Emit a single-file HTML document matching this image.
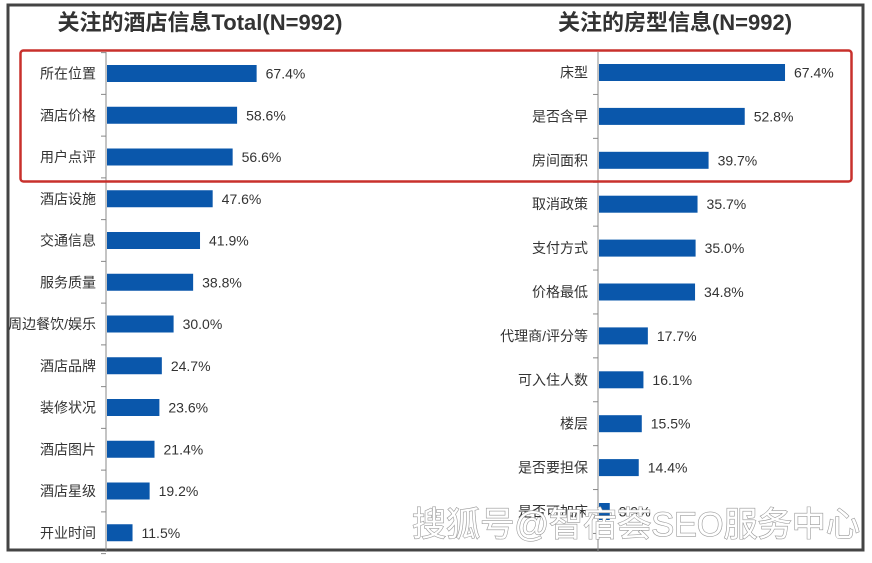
<!DOCTYPE html>
<html><head><meta charset="utf-8"><style>
body{margin:0;background:#fff;}
svg text{font-family:"Liberation Sans","Noto Sans CJK SC",sans-serif;}
</style></head><body>
<svg width="872" height="558" xmlns="http://www.w3.org/2000/svg">
<rect x="0" y="0" width="872" height="558" fill="#fff"/>
<rect x="8" y="5" width="855" height="545" fill="none" stroke="#444" stroke-width="3"/>
<text x="200" y="30" font-size="22" font-weight="bold" fill="#333" text-anchor="middle">关注的酒店信息Total(N=992)</text>
<text x="675" y="30" font-size="22" font-weight="bold" fill="#333" text-anchor="middle">关注的房型信息(N=992)</text>
<g id="L"></g><g id="R"></g>
<rect x="20.5" y="50.5" width="831" height="131" rx="3" fill="none" stroke="#c8302c" stroke-width="2.5"/>
<text x="860" y="536" font-size="34" fill="#fff" stroke="#999" stroke-width="1.2" text-anchor="end" paint-order="stroke" textLength="448" lengthAdjust="spacingAndGlyphs">搜狐号@智宿荟SEO服务中心</text>
</svg>
<script>
var L=[["所在位置",67.4],["酒店价格",58.6],["用户点评",56.6],["酒店设施",47.6],["交通信息",41.9],["服务质量",38.8],["周边餐饮/娱乐",30.0],["酒店品牌",24.7],["装修状况",23.6],["酒店图片",21.4],["酒店星级",19.2],["开业时间",11.5]];
var R=[["床型",67.4],["是否含早",52.8],["房间面积",39.7],["取消政策",35.7],["支付方式",35.0],["价格最低",34.8],["代理商/评分等",17.7],["可入住人数",16.1],["楼层",15.5],["是否要担保",14.4],["是否可加床",3.9]];
var ns="http://www.w3.org/2000/svg";
function el(g,t,a,txt){var e=document.createElementNS(ns,t);for(var k in a)e.setAttribute(k,a[k]);if(txt)e.textContent=txt;g.appendChild(e);}
function draw(id,d,ax,y0,sp,sc,top,bot){var g=document.getElementById(id);
el(g,"line",{x1:ax,y1:top,x2:ax,y2:bot,stroke:"#888","stroke-width":1});
for(var i=0;i<=d.length;i++){var ty=y0-sp/2+i*sp;el(g,"line",{x1:ax-5,y1:ty,x2:ax,y2:ty,stroke:"#888"});}
d.forEach(function(r,i){var cy=y0+i*sp,w=r[1]*sc;
el(g,"rect",{x:ax+1,y:cy-8.5,width:w,height:17,fill:"#0a57ab"});
el(g,"text",{x:ax-10,y:cy+5,"font-size":14,fill:"#333","text-anchor":"end"},r[0]);
el(g,"text",{x:ax+w+10,y:cy+5,"font-size":14,fill:"#333"},r[1].toFixed(1)+"%");});}
draw("L",L,106,73.5,41.75,2.22,52,552);
draw("R",R,598,72.5,43.9,2.76,52,552);
</script>
</body></html>
